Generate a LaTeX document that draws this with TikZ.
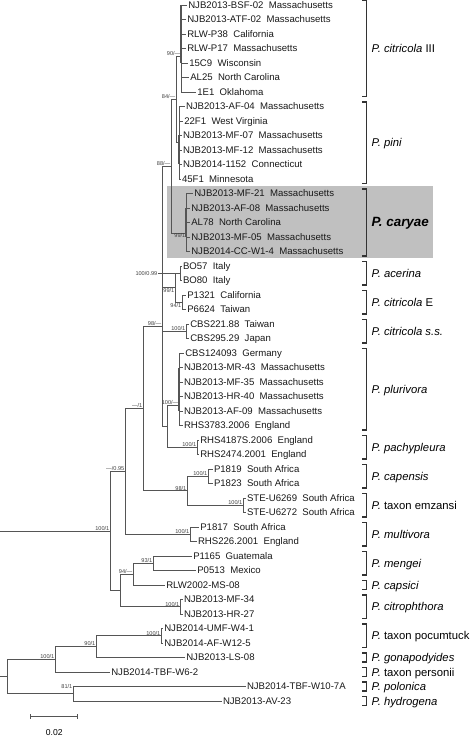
\documentclass[tikz,border=0pt]{standalone}
\usepackage{fontspec}
\setmainfont{Liberation Sans}
\usetikzlibrary{positioning,calc}

\definecolor{branchgrey}{HTML}{555555}
\definecolor{boxgrey}{HTML}{C0C0C0}

\newcommand\rowy[1]{5+14.5*(#1-1)}
% bracket with species name: first row, last row, name
\newcommand\cladebar[3]{%
  \draw[clade] (362,{\rowy{#1}-4.5}) -- (366.5,{\rowy{#1}-4.5})
    -- (366.5,{\rowy{#2}+4.5}) -- (362,{\rowy{#2}+4.5});
  \node[species] at (371.5,{(\rowy{#1}+\rowy{#2})/2}) {#3};}

\tikzset{
  branch/.style={draw=branchgrey, line width=0.85pt},
  bar/.style={draw=branchgrey, line width=1.8pt},
  leaf/.style={anchor=west, inner sep=0pt, outer sep=1.3pt, text height=6.9pt,
    text depth=0pt, font=\fontsize{9.6}{10}\selectfont, text=black!90},
  sup/.style={anchor=south east, inner sep=0.5pt, font=\fontsize{5.6}{6}\selectfont, text=black!75},
  supbelow/.style={sup, anchor=north east},
  clade/.style={draw=black!80, line width=1.1pt},
  species/.style={anchor=west, inner sep=0pt, text height=8.1pt, text depth=0pt,
    font=\fontsize{11.3}{12}\selectfont},
}

\begin{document}
\begin{tikzpicture}[x=1pt,y=-1pt]
  \useasboundingbox (0,0) rectangle (474,738);
  \fill[boxgrey] (167,186) rectangle (433,258);   % P. caryae
  % isolates
  \foreach \i/\x/\t in {
    1/187/{NJB2013-BSF-02\ \ Massachusetts}, 2/186/{NJB2013-ATF-02\ \ Massachusetts},
    3/186/{RLW-P38\ \ California}, 4/186/{RLW-P17\ \ Massachusetts},
    5/188/{15C9\ \ Wisconsin}, 6/189/{AL25\ \ North Carolina}, 7/196/{1E1\ \ Oklahoma},
    8/184.7/{NJB2013-AF-04\ \ Massachusetts}, 9/183/{22F1\ \ West Virginia},
    10/181.7/{NJB2013-MF-07\ \ Massachusetts}, 11/181.7/{NJB2013-MF-12\ \ Massachusetts},
    12/181.7/{NJB2014-1152\ \ Connecticut}, 13/180.7/{45F1\ \ Minnesota},
    14/193/{NJB2013-MF-21\ \ Massachusetts}, 15/190/{NJB2013-AF-08\ \ Massachusetts},
    16/190/{AL78\ \ North Carolina}, 17/190/{NJB2013-MF-05\ \ Massachusetts},
    18/190/{NJB2014-CC-W1-4\ \ Massachusetts},
    19/181.7/{BO57\ \ Italy}, 20/181.7/{BO80\ \ Italy},
    21/186/{P1321\ \ California}, 22/186/{P6624\ \ Taiwan},
    23/189/{CBS221.88\ \ Taiwan}, 24/189/{CBS295.29\ \ Japan},
    25/184/{CBS124093\ \ Germany}, 26/182.7/{NJB2013-MR-43\ \ Massachusetts},
    27/182.7/{NJB2013-MF-35\ \ Massachusetts}, 28/182.7/{NJB2013-HR-40\ \ Massachusetts},
    29/182.7/{NJB2013-AF-09\ \ Massachusetts}, 30/182.7/{RHS3783.2006\ \ England},
    31/199/{RHS4187S.2006\ \ England}, 32/199/{RHS2474.2001\ \ England},
    33/212.7/{P1819\ \ South Africa}, 34/212.7/{P1823\ \ South Africa},
    35/245.7/{STE-U6269\ \ South Africa}, 36/245.7/{STE-U6272\ \ South Africa},
    37/199/{P1817\ \ South Africa}, 38/196.7/{RHS226.2001\ \ England},
    39/192/{P1165\ \ Guatemala}, 40/196/{P0513\ \ Mexico},
    41/165/{RLW2002-MS-08}, 42/182.7/{NJB2013-MF-34}, 43/182.7/{NJB2013-HR-27},
    44/163/{NJB2014-UMF-W4-1}, 45/163/{NJB2014-AF-W12-5}, 46/185/{NJB2013-LS-08},
    47/110/{NJB2014-TBF-W6-2}, 48/245.7/{NJB2014-TBF-W10-7A}, 49/221.7/{NJB2013-AV-23}}
    \node[leaf] (r\i) at (\x,{\rowy{\i}}) {\t};
  % internal nodes
  \coordinate (c3) at (181,56);        \coordinate (pini) at (179,142.75);
  \coordinate (p84) at (176,99.4);     \coordinate (cary) at (186,233);
  \coordinate (p88) at (171,166.2);    \coordinate (acer) at (180,273.25);
  \coordinate (citE) at (182,302.25);  \coordinate (p99a) at (175,287.75);
  \coordinate (W) at (162,227);        \coordinate (citss) at (186,331.25);
  \coordinate (pluri) at (179,405);    \coordinate (pachy) at (197,447.25);
  \coordinate (PP) at (167,426.1);     \coordinate (Y) at (162,326.5);
  \coordinate (capen) at (208,476.25); \coordinate (emz) at (243,505.25);
  \coordinate (n98) at (187,490.75);   \coordinate (n143) at (143,408.6);
  \coordinate (multi) at (190,534.25); \coordinate (n125) at (125,471.4);
  \coordinate (mengei) at (153,563.25);\coordinate (n94) at (133,574.1);
  \coordinate (citro) at (180,606.75); \coordinate (mgrp) at (120,590.4);
  \coordinate (n110) at (110,531);     \coordinate (pocum) at (161,635.75);
  \coordinate (n90) at (96,646.6);     \coordinate (n100) at (55,659.3);
  \coordinate (n81) at (73,693.75);    \coordinate (nout) at (7,676.5);
  \coordinate (root) at (-2,603.75);   % just outside the frame
  % branches
  \foreach \a/\b in {root/n110, root/nout, n110/n125, n110/mgrp, n125/n143, n125/multi,
    n143/Y, n143/n98, Y/W, Y/citss, Y/PP, W/p88, W/p99a, p88/p84, p88/cary,
    p84/c3, p84/pini, p99a/acer, p99a/citE, PP/pluri, PP/pachy, n98/capen, n98/emz,
    mgrp/n94, mgrp/citro, n94/mengei, nout/n100, nout/n81, n100/n90, n90/pocum}
    \draw[branch] (\a) |- (\b);
  \foreach \a/\b in {c3/1, c3/2, c3/3, c3/4, c3/5, c3/6, c3/7, pini/8, pini/9, pini/10,
    pini/11, pini/12, pini/13, cary/14, cary/15, cary/16, cary/17, cary/18,
    acer/19, acer/20, citE/21, citE/22, citss/23, citss/24, pluri/25, pluri/26,
    pluri/27, pluri/28, pluri/29, pluri/30, pachy/31, pachy/32, capen/33, capen/34,
    emz/35, emz/36, multi/37, multi/38, mengei/39, mengei/40, n94/41, citro/42,
    citro/43, pocum/44, pocum/45, n90/46, n100/47, n81/48, n81/49}
    \draw[branch] (\a) |- (r\b.west);
  % short branches lumped together
  \draw[bar] (c3 |- r1.west) -- (c3 |- r5.west);
  \draw[bar] (pini |- r10.west) -- (pini |- r12.west);
  \draw[bar] (cary |- r15.west) -- (cary |- r17.west);
  \draw[bar] (pluri |- r26.west) -- (pluri |- r29.west);
  % support values
  \node[sup] at (c3) {90/—};
  \node[sup] at (p84) {84/—};
  \node[sup] at (p88) {88/—};
  \node[supbelow] at (cary) {99/1};
  \node[sup, anchor=east] (acerlab) at (158,273.25) {100/0.99};
  \draw[branch, line width=0.5pt] (acerlab.east) -- (p99a |- acer);
  \node[supbelow] at (p99a) {99/1};
  \node[supbelow] at (citE) {94/1};
  \node[sup] at (Y) {98/—};
  \node[sup] at (citss) {100/1};
  \node[sup] at (pluri) {100/—};
  \node[sup] at (pachy) {100/1};
  \node[sup] at (n143) {—/1};
  \node[sup] at (n98) {98/1};
  \node[sup] at (capen) {100/1};
  \node[sup] at (emz) {100/1};
  \node[sup] at (n125) {—/0.95};
  \node[sup] at (n110) {100/1};
  \node[sup] at (multi) {100/1};
  \node[sup] at (mengei) {93/1};
  \node[sup] at (n94) {94/—};
  \node[sup] at (citro) {100/1};
  \node[sup] at (pocum) {100/1};
  \node[sup] at (n90) {90/1};
  \node[sup] at (n100) {100/1};
  \node[sup] at ($(n81)+(0,-5)$) {81/1};
  % species
  \cladebar{1}{7}{\textit{P. citricola} III}
  \cladebar{8}{13}{\textit{P. pini}}
  \cladebar{14}{18}{\fontsize{13.4}{14}\selectfont\bfseries\itshape P. caryae}
  \cladebar{19}{20}{\textit{P. acerina}}
  \cladebar{21}{22}{\textit{P. citricola} E}
  \cladebar{23}{24}{\textit{P. citricola s.s.}}
  \cladebar{25}{30}{\textit{P. plurivora}}
  \cladebar{31}{32}{\textit{P. pachypleura}}
  \cladebar{33}{34}{\textit{P. capensis}}
  \cladebar{35}{36}{\textit{P.} taxon emzansi}
  \cladebar{37}{38}{\textit{P. multivora}}
  \cladebar{39}{40}{\textit{P. mengei}}
  \cladebar{41}{41}{\textit{P. capsici}}
  \cladebar{42}{43}{\textit{P. citrophthora}}
  \cladebar{44}{45}{\textit{P.} taxon pocumtuck}
  \cladebar{46}{46}{\textit{P. gonapodyides}}
  \cladebar{47}{47}{\textit{P.} taxon personii}
  \cladebar{48}{48}{\textit{P. polonica}}
  \cladebar{49}{49}{\textit{P. hydrogena}}
  % scale
  \coordinate (s1) at (30.7,716.7);
  \coordinate (s2) at (77.7,716.7);
  \draw[branch] (s1) -- (s2);
  \draw[branch] ($(s1)+(0,-2.5)$) -- ($(s1)+(0,2.5)$);
  \draw[branch] ($(s2)+(0,-2.5)$) -- ($(s2)+(0,2.5)$);
  \node[font=\fontsize{8.6}{9}\selectfont, inner sep=0pt] (scale) at (54.2,733) {0.02};
\end{tikzpicture}
\end{document}
